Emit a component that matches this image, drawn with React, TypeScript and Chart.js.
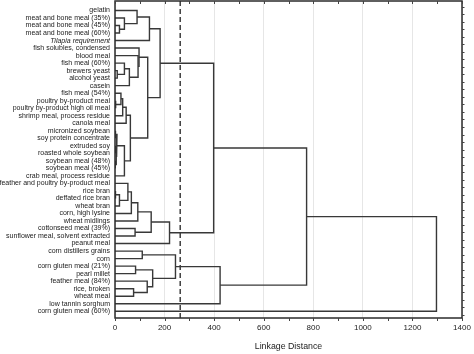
import React, { useEffect, useRef } from "react";
import { Chart, registerables } from "chart.js";

Chart.register(...registerables);

const LABELS: string[] = [
  "gelatin",
  "meat and bone meal (35%)",
  "meat and bone meal (45%)",
  "meat and bone meal (60%)",
  "Tilapia requirement",
  "fish solubles, condensed",
  "blood meal",
  "fish meal (60%)",
  "brewers yeast",
  "alcohol yeast",
  "casein",
  "fish meal (54%)",
  "poultry by-product meal",
  "poultry by-product high oil meal",
  "shrimp meal, process residue",
  "canola meal",
  "micronized soybean",
  "soy protein concentrate",
  "extruded soy",
  "roasted whole soybean",
  "soybean meal (48%)",
  "soybean meal (45%)",
  "crab meal, process residue",
  "feather and poultry by-product meal",
  "rice bran",
  "deffated rice bran",
  "wheat bran",
  "corn, high lysine",
  "wheat midlings",
  "cottonseed meal (39%)",
  "sunflower meal, solvent extracted",
  "peanut meal",
  "corn distillers grains",
  "corn",
  "corn gluten meal (21%)",
  "pearl millet",
  "feather meal (84%)",
  "rice, broken",
  "wheat meal",
  "low tannin sorghum",
  "corn gluten meal (60%)",
];

const ITALIC_LABEL = "Tilapia requirement";

// Agglomeration steps: node ids 0..40 are leaves, step k creates node 41+k
const MERGE_LEFT: number[] = [
  2, 1, 0, 43, 8, 7, 46, 6, 5, 12,
  11, 51, 52, 16, 18, 20, 55, 54, 58, 53,
  49, 44, 24, 63, 23, 65, 66, 29, 67, 69,
  62, 32, 34, 37, 36, 73, 72, 77, 71, 79,
];
const MERGE_RIGHT: number[] = [
  3, 41, 42, 4, 9, 45, 10, 47, 48, 13,
  50, 14, 15, 17, 19, 21, 56, 57, 22, 59,
  60, 61, 25, 26, 64, 27, 28, 30, 68, 31,
  70, 33, 35, 38, 74, 75, 76, 39, 78, 40,
];
const MERGE_HEIGHT: number[] = [
  18, 38, 89, 139, 9, 38, 58, 93, 97, 4,
  24, 31, 45, 3, 2, 1.5, 5, 8, 38, 62,
  132, 182, 3, 18, 52, 66, 92, 81, 146, 220,
  398, 110, 83, 75, 130, 152, 244, 424, 773, 1297,
];

const X_MIN = 0;
const X_MAX = 1400;
const X_STEP = 200;
const CUTOFF = 263;
const X_TITLE = "Linkage Distance";

const FONT = "'Liberation Sans', Arial, Helvetica, sans-serif";

function buildSegments() {
  const pos: number[] = LABELS.map((_, i) => i);
  const hgt: number[] = LABELS.map(() => 0);
  const segs: { x: number; y: number }[][] = [];
  for (let k = 0; k < MERGE_HEIGHT.length; k++) {
    const a = MERGE_LEFT[k];
    const b = MERGE_RIGHT[k];
    const d = MERGE_HEIGHT[k];
    segs.push([
      { x: hgt[a], y: pos[a] },
      { x: d, y: pos[a] },
      { x: d, y: pos[b] },
      { x: hgt[b], y: pos[b] },
    ]);
    pos.push((pos[a] + pos[b]) / 2);
    hgt.push(d);
  }
  return segs;
}

const Y_MIN = -1.26;
const Y_MAX = LABELS.length - 1 + 0.9;

const framePlugin = {
  id: "frame",
  afterDraw(chart: any) {
    const { ctx, chartArea, scales } = chart;
    const { left, top, right, bottom } = chartArea;
    const x = scales.x;
    const y = scales.y;
    ctx.save();
    ctx.strokeStyle = "#2b2b2b";
    ctx.lineWidth = 1.5;
    ctx.strokeRect(left, top, right - left, bottom - top);
    ctx.lineWidth = 1;
    ctx.strokeStyle = "#444";
    ctx.beginPath();
    for (let v = X_MIN; v <= X_MAX; v += X_STEP / 2) {
      const px = Math.round(x.getPixelForValue(v)) + 0.5;
      ctx.moveTo(px, top);
      ctx.lineTo(px, top + 3);
      ctx.moveTo(px, bottom);
      ctx.lineTo(px, bottom + 3);
    }
    for (let i = 0; i <= LABELS.length; i++) {
      const py = Math.round(y.getPixelForValue(i - 0.5)) + 0.5;
      ctx.moveTo(right, py);
      ctx.lineTo(right + 2.5, py);
    }
    ctx.stroke();
    ctx.restore();
  },
};

export default function App() {
  const ref = useRef<HTMLCanvasElement | null>(null);

  useEffect(() => {
    document.body.style.margin = "0";
    const canvas = ref.current;
    if (!canvas) return;
    const segs = buildSegments();
    const datasets: any[] = segs.map((s) => ({
      data: s,
      showLine: true,
      borderColor: "#383838",
      borderWidth: 1.4,
      pointRadius: 0,
      tension: 0,
    }));
    datasets.push({
      data: [
        { x: CUTOFF, y: Y_MIN },
        { x: CUTOFF, y: Y_MAX },
      ],
      showLine: true,
      borderColor: "#222",
      borderWidth: 1.3,
      borderDash: [5, 3],
      pointRadius: 0,
    });

    const chart = new Chart(canvas, {
      type: "scatter",
      data: { datasets },
      options: {
        animation: false,
        responsive: false,
        layout: { padding: { top: 1, right: 12, left: 0, bottom: 0 } },
        plugins: {
          legend: { display: false },
          tooltip: { enabled: false },
        },
        scales: {
          x: {
            type: "linear",
            position: "bottom",
            min: X_MIN,
            max: X_MAX,
            ticks: {
              stepSize: X_STEP,
              color: "#222",
              padding: 5,
              font: { family: FONT, size: 8 },
              callback: (v: any) => String(v),
            },
            grid: {
              color: "#e6e6e6",
              lineWidth: 1,
              drawTicks: false,
            },
            border: { display: false },
            title: {
              display: true,
              text: X_TITLE,
              color: "#222",
              font: { family: FONT, size: 8.8 },
              padding: { top: 0, bottom: 2 },
            },
            afterFit: (s: any) => {
              s.height = 36;
              s.paddingLeft = 0;
              s.paddingRight = 0;
            },
          },
          y: {
            type: "linear",
            reverse: true,
            min: Y_MIN,
            max: Y_MAX,
            afterBuildTicks: (s: any) => {
              s.ticks = LABELS.map((_, i) => ({ value: i }));
            },
            ticks: {
              autoSkip: false,
              color: "#1a1a1a",
              padding: 5,
              callback: (v: any) => LABELS[Math.round(Number(v))] ?? "",
              font: (c: any) => ({
                family: FONT,
                size: 7,
                style: LABELS[c.index] === ITALIC_LABEL ? "italic" : "normal",
              }),
            },
            grid: { display: false, drawTicks: false },
            border: { display: false },
            afterFit: (s: any) => {
              s.width = 115;
              s.paddingTop = 0;
              s.paddingBottom = 0;
            },
          },
        },
      },
      plugins: [framePlugin],
    } as any);
    return () => chart.destroy();
  }, []);

  return (
    <div style={{ width: 474, height: 354 }}>
      <canvas ref={ref} width={474} height={354} style={{ display: "block" }} />
    </div>
  );
}
